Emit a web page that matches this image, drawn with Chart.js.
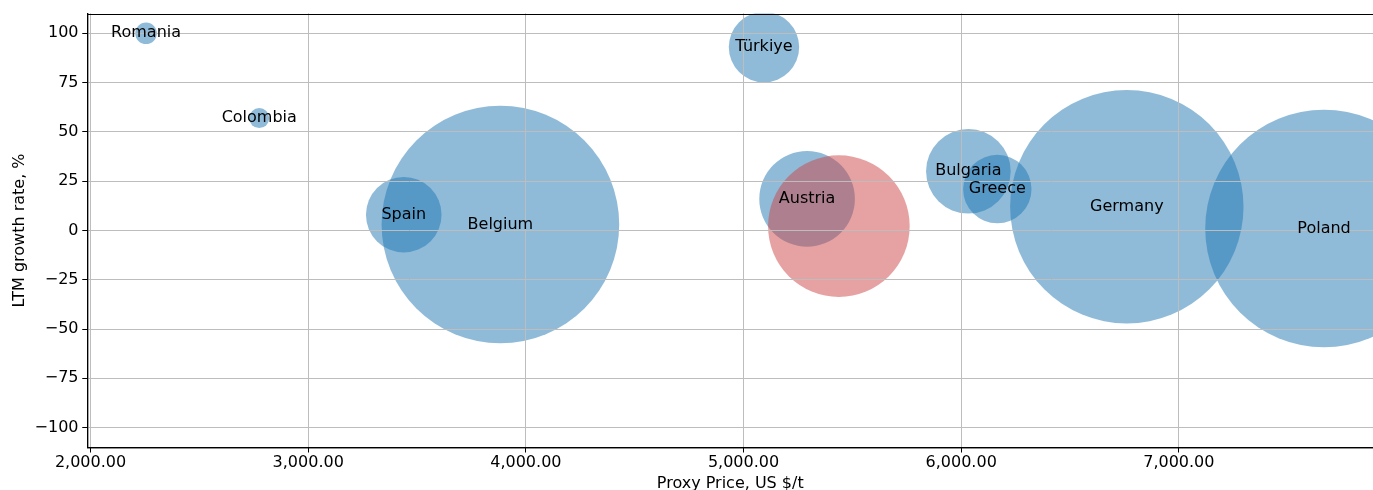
<!DOCTYPE html>
<html>
<head>
<meta charset="utf-8">
<script src="https://cdn.jsdelivr.net/npm/chart.js@4.4.1/dist/chart.umd.min.js"></script>
<style>
  html, body { margin: 0; padding: 0; background: #fff; }
  canvas { display: block; }
</style>
</head>
<body>
<canvas id="chart" width="1373" height="490"></canvas>
<script>
// bubble chart: proxy price vs LTM growth

const countries = ['Romania', 'Colombia', 'Spain', 'Belgium', 'Türkiye', 'Austria', 'Bulgaria', 'Greece', 'Germany', 'Poland'];
const prices = [2255, 2775, 3439, 3883, 5094, 5292, 6033, 6166, 6761, 7667];
const growth = [100, 57, 8, 3, 93, 16, 30, 21, 12, 1];
const radii = [10.8, 10, 37.8, 118.8, 35.2, 47.8, 42.3, 34.2, 116.7, 118.8];

// highlighted (unlabelled) bubble
const hlPrice = [5438];
const hlGrowth = [2.2];
const hlRadius = [70.8];

const xTicks = [2000, 3000, 4000, 5000, 6000, 7000];
const yTicks = [-100, -75, -50, -25, 0, 25, 50, 75, 100];

Chart.defaults.font.family = "'DejaVu Sans', sans-serif";
Chart.defaults.font.size = 16;
Chart.defaults.color = '#000';

const gridOnTop = {
    id: 'gridOnTop',
    afterDatasetsDraw(chart) {
        const ctx = chart.ctx;
        const area = chart.chartArea;
        chart.scales.x.drawGrid(area);
        chart.scales.y.drawGrid(area);
        chart.scales.x.drawBorder();
        chart.scales.y.drawBorder();

        // top spine
        ctx.save();
        ctx.strokeStyle = '#000';
        ctx.lineWidth = 1.2;
        ctx.beginPath();
        ctx.moveTo(area.left, Math.round(area.top) + 0.5);
        ctx.lineTo(area.right, Math.round(area.top) + 0.5);
        ctx.stroke();

        // country labels
        ctx.fillStyle = '#000';
        ctx.font = "16px 'DejaVu Sans', sans-serif";
        ctx.textAlign = 'center';
        ctx.textBaseline = 'middle';
        countries.forEach((name, i) => {
            const px = chart.scales.x.getPixelForValue(prices[i]);
            const py = chart.scales.y.getPixelForValue(growth[i]);
            ctx.fillText(name, px, py);
        });
        ctx.restore();
    }
};

const ctx = document.getElementById('chart').getContext('2d');
new Chart(ctx, {
    type: 'bubble',
    data: {
        datasets: [
            {
                label: 'highlight',
                order: 0,
                data: hlPrice.map((p, i) => ({ x: p, y: hlGrowth[i], r: hlRadius[i] })),
                backgroundColor: 'rgba(205, 70, 70, 0.5)',
                borderWidth: 0
            },
            {
                label: 'countries',
                order: 1,
                data: prices.map((p, i) => ({ x: p, y: growth[i], r: radii[i] })),
                backgroundColor: 'rgba(31, 119, 180, 0.5)',
                borderWidth: 0
            }
        ]
    },
    options: {
        responsive: false,
        devicePixelRatio: 1,
        animation: false,
        layout: { autoPadding: false, padding: { top: 13, right: 0, bottom: 0, left: 0 } },
        plugins: {
            legend: { display: false },
            tooltip: { enabled: false }
        },
        scales: {
            x: {
                type: 'linear',
                min: 1986,
                max: 7892,
                afterBuildTicks: scale => { scale.ticks = xTicks.map(v => ({ value: v })); },
                afterFit: scale => { scale.height = 42.7; },
                ticks: {
                    autoSkip: false,
                    maxRotation: 0,
                    padding: 1,
                    callback: v => v.toLocaleString('en-US', { minimumFractionDigits: 2, maximumFractionDigits: 2 })
                },
                grid: { color: '#bdbdbd', lineWidth: 1, tickColor: '#000', tickLength: 5 },
                border: { color: '#000', width: 1.2 },
                title: {
                    display: true,
                    text: 'Proxy Price, US $/t',
                    padding: { top: 0, bottom: -3 }
                }
            },
            y: {
                type: 'linear',
                min: -110,
                max: 110,
                afterBuildTicks: scale => { scale.ticks = yTicks.map(v => ({ value: v })); },
                afterFit: scale => { scale.width = 87.5; },
                ticks: {
                    padding: 4,
                    callback: v => (v < 0 ? '\u2212' + Math.abs(v) : String(v))
                },
                grid: { color: '#bdbdbd', lineWidth: 1, tickColor: '#000', tickLength: 5 },
                border: { color: '#000', width: 1.2 },
                title: {
                    display: true,
                    text: 'LTM growth rate, %',
                    padding: { top: 10, bottom: 0 }
                }
            }
        }
    },
    plugins: [gridOnTop]
});
</script>
</body>
</html>
